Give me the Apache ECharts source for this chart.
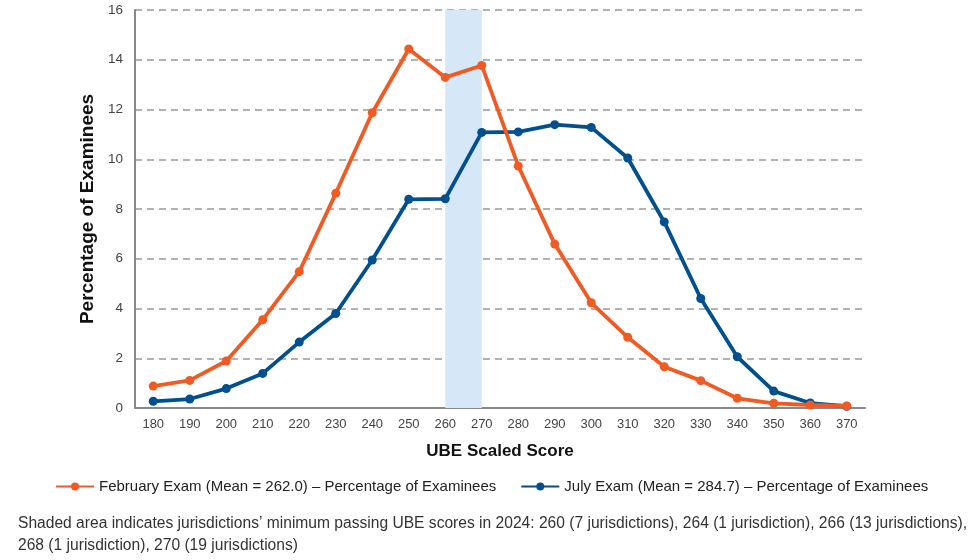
<!DOCTYPE html>
<html><head><meta charset="utf-8">
<script src="https://cdn.jsdelivr.net/npm/echarts@6/dist/echarts.min.js"></script>
<style>html,body{margin:0;padding:0;background:#fff}#c{width:980px;height:560px}</style>
</head><body><div id="c"></div>
<script>
const categories = ['180','190','200','210','220','230','240','250','260','270','280','290','300','310','320','330','340','350','360','370'];
const febValues = [0.88,1.11,1.89,3.55,5.48,8.63,11.87,14.43,13.29,13.77,9.73,6.59,4.23,2.84,1.66,1.10,0.39,0.19,0.12,0.08];
const julValues = [0.27,0.36,0.78,1.39,2.65,3.80,5.95,8.39,8.41,11.08,11.10,11.39,11.28,10.05,7.48,4.40,2.06,0.68,0.20,0.07];
const febName = 'February Exam (Mean = 262.0) \u2013 Percentage of Examinees';
const julName = 'July Exam (Mean = 284.7) \u2013 Percentage of Examinees';
const shadeRange = ['260','270'];
const footLines = [
  'Shaded area indicates jurisdictions\u2019 minimum passing UBE scores in 2024: 260 (7 jurisdictions), 264 (1 jurisdiction), 266 (13 jurisdictions),',
  '268 (1 jurisdiction), 270 (19 jurisdictions)'
];
const ORANGE = '#F15A22', BLUE = '#004F8F';
const chart = echarts.init(document.getElementById('c'), null, {renderer:'canvas'});
chart.setOption({
  animation:false,
  backgroundColor:'#fff',
  grid:{left:135,right:115,top:10,bottom:152,containLabel:false},
  legend:{
    data:[febName, julName],
    left:50, top:474, itemGap:24, itemWidth:38, itemHeight:10,
    textStyle:{fontFamily:'Liberation Sans', fontSize:15, color:'#222'}
  },
  xAxis:{
    type:'category', data:categories, boundaryGap:true,
    name:'UBE Scaled Score', nameLocation:'middle', nameGap:35,
    nameTextStyle:{fontFamily:'Liberation Sans', fontWeight:'bold', fontSize:17, color:'#111'},
    axisLine:{lineStyle:{color:'#888', width:2}},
    axisTick:{show:false},
    axisLabel:{fontFamily:'Liberation Sans', fontSize:13, color:'#444', margin:10}
  },
  yAxis:{
    type:'value', min:0, max:16, interval:2,
    name:'Percentage of Examinees', nameLocation:'middle', nameGap:38, nameRotate:90,
    nameTextStyle:{fontFamily:'Liberation Sans', fontWeight:'bold', fontSize:19, color:'#111'},
    axisLine:{show:true, lineStyle:{color:'#888', width:2}},
    axisTick:{show:false},
    axisLabel:{fontFamily:'Liberation Sans', fontSize:13.5, color:'#444', margin:12},
    splitLine:{lineStyle:{color:'#999', type:[7,5], width:1.5}}
  },
  series:[
    {name:julName, type:'line', data:julValues, z:3,
     symbol:'circle', symbolSize:9, lineStyle:{color:BLUE, width:3.8}, itemStyle:{color:BLUE}},
    {name:febName, type:'line', data:febValues, z:4,
     symbol:'circle', symbolSize:9, lineStyle:{color:ORANGE, width:3.8}, itemStyle:{color:ORANGE},
     markArea:{silent:true, itemStyle:{color:'#D6E7F7'}, data:[[{xAxis:shadeRange[0]},{xAxis:shadeRange[1]}]]}}
  ],
  graphic:footLines.map((t,i)=>({type:'text', left:18, top:516+i*22,
    style:{text:t, fontFamily:'Liberation Sans', fontSize:15.6, fill:'#333'}}))
});
</script></body></html>
